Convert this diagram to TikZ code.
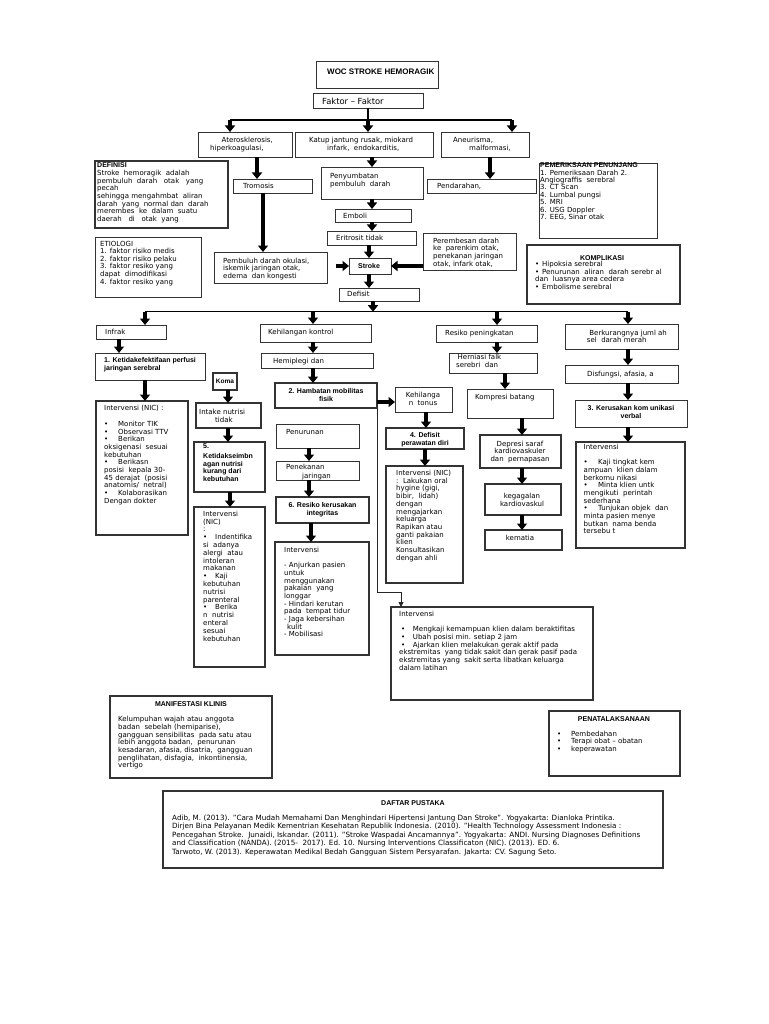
\documentclass[tikz,border=0pt]{standalone}
\usepackage{fontspec}
\setmainfont{DejaVu Sans}
\newfontfamily\arialf{Liberation Sans}
\usetikzlibrary{arrows.meta,calc}
\newcommand\ftN{\fontsize{7}{7.7}\selectfont}
\newcommand\ftB{\arialf\bfseries\fontsize{7}{8}\selectfont}
\newcommand\ftS{\fontsize{7.2}{8.5}\selectfont}
\newcommand\blt[1][14pt]{\makebox[#1][l]{•}}
\newcommand\mkbox[6][box]{\pgfmathsetmacro\bw{#5-#3}\pgfmathsetmacro\bh{#6-#4}\node[#1,minimum width=\bw pt,minimum height=\bh pt] (#2) at (#3,#4) {};}
\newcommand\tx[5][]{\node[txt,#1] (#2) at (#3,#4) {#5};}
\newcommand\va[3]{\draw[arr] (#1,0 |- #2) -- (#1,0 |- #3);}
\begin{document}
\begin{tikzpicture}[x=1pt,y=-1pt,
  box/.style={draw=black!80, line width=0.75pt, anchor=north west, inner sep=0pt, outer sep=0pt},
  tbox/.style={box, line width=1.2pt},
  txt/.style={inner sep=0pt, anchor=north west, align=left, font=\ftN, yshift=3.3pt, execute at begin node=\strut},
  ctr/.style={anchor=north, align=center},
  arr/.style={draw=black, line width=3.3pt, -{Triangle[width=10pt,length=6.5pt]}},
  distr/.style={draw=black, line width=1.3pt},
  thinarr/.style={draw=black!85, line width=0.8pt, -{Triangle[width=5pt,length=5pt]}}]
\fill[white] (0,0) rectangle (768,1024);
\useasboundingbox (0,0) rectangle (768,1024);

% ---------- boxes ----------
\mkbox{title}{316}{61}{438}{88}
\mkbox{faktor}{313}{93}{423}{108}
\mkbox{atero}{198}{132}{292}{157}
\mkbox{katup}{295}{132}{433}{157}
\mkbox{aneu}{441}{132}{529}{157}
\mkbox[tbox]{defin}{95}{161}{228}{228}
\mkbox{tromo}{233}{179}{312}{193}
\mkbox{penyum}{321}{167}{423}{199}
\mkbox{pendar}{427}{179}{536}{193}
\mkbox{pemer}{539}{163}{657}{238}
\mkbox{emboli}{335}{209}{411}{222}
\mkbox{eritro}{327}{231}{416}{245}
\mkbox{etio}{95}{237}{201}{297}
\mkbox{perem}{423}{233}{516}{270}
\mkbox{stroke}{349}{258}{391}{274}
\mkbox{pembul}{214}{252}{327}{283}
\mkbox[tbox]{kompl}{527}{245}{680}{304}
\mkbox{defisit}{339}{288}{419}{301}
\mkbox{infrak}{96}{325}{166}{339}
\mkbox{kehil}{260}{324}{371}{342}
\mkbox{resiko}{436}{325}{537}{342}
\mkbox{berkur}{565}{324}{678}{349}
\mkbox{dA}{95}{353}{205}{380}
\mkbox{hemi}{261}{353}{373}{368}
\mkbox{hern}{449}{353}{537}{373}
\mkbox{disf}{565}{365}{678}{383}
\mkbox[tbox]{koma}{213}{373}{237}{390}
\mkbox[tbox]{dB}{275}{383}{377}{408}
\mkbox{kton}{395}{387}{452}{412}
\mkbox{komp}{467}{389}{553}{418}
\mkbox{dC}{575}{400}{687}{427}
\mkbox[tbox]{intA}{96}{401}{188}{535}
\mkbox[tbox]{intake}{196}{403}{261}{428}
\mkbox{penA}{276}{424}{359}{448}
\mkbox[tbox]{dD}{386}{428}{464}{449}
\mkbox[tbox]{depr}{480}{435}{561}{468}
\mkbox[tbox]{dE}{194}{442}{265}{492}
\mkbox[tbox]{intC}{576}{442}{685}{548}
\mkbox{penB}{276}{461}{359}{480}
\mkbox[tbox]{intD}{386}{466}{463}{583}
\mkbox[tbox]{gagal}{485}{484}{561}{515}
\mkbox[tbox]{dF}{276}{497}{369}{523}
\mkbox[tbox]{intE}{194}{507}{265}{667}
\mkbox[tbox]{mati}{485}{530}{562}{550}
\mkbox[tbox]{intF}{275}{542}{369}{655}
\mkbox[tbox]{intB}{391}{607}{593}{700}
\mkbox[tbox]{manif}{110}{696}{272}{778}
\mkbox[tbox]{penat}{549}{711}{680}{776}
\mkbox[tbox]{pustaka}{163}{791}{663}{868}

% ---------- texts ----------
\tx[font={\arialf\bfseries\fontsize{8}{9}\selectfont}]{titleT}{327}{71}{WOC STROKE HEMORAGIK}
\tx[font={\fontsize{8.4}{9}\selectfont}]{faktorT}{322}{101}{Faktor – Faktor}
\tx[font={\fontsize{7}{7.2}\selectfont}]{ateroT}{210}{140.7}{\hspace*{11.5pt}Aterosklerosis,\\hiperkoagulasi,}
\tx[font={\fontsize{7}{7.2}\selectfont}]{katupT}{309}{140.7}{Katup jantung rusak, miokard\\\hspace*{18pt}infark,\ \ endokarditis,}
\tx[font={\fontsize{7}{7.2}\selectfont}]{aneuT}{453}{140.7}{Aneurisma,\\\hspace*{16pt}malformasi,}
\tx{definT}{97}{166}{{\ftB DEFINISI}\\Stroke\ \ hemoragik\ \ adalah\\pembuluh\ \ darah\ \ \ otak\ \ \ yang\\pecah\\sehingga mengahmbat\ \ aliran\\darah\ \ yang\ \ normal dan\ \ darah\\merembes\ \ ke\ \ dalam\ \ suatu\\daerah\ \ \ di\ \ \ otak\ \ yang}
\tx{tromoT}{243}{186}{Tromosis}
\tx{penyumT}{330}{176.7}{Penyumbatan\\pembuluh\ \ darah}
\tx{pendarT}{437}{186}{Pendarahan,}
\tx[font={\fontsize{7}{7.4}\selectfont}]{pemerT}{540}{166}{{\ftB PEMERIKSAAN PENUNJANG}\\1. Pemeriksaan Darah 2.\\Angiograffis\ \ serebral\\3. CT Scan\\4. Lumbal pungsi\\5. MRI\\6. USG Doppler\\7. EEG, Sinar otak}
\tx{emboliT}{343}{216}{Emboli}
\tx{eritroT}{336}{238}{Eritrosit tidak}
\tx[font={\fontsize{7}{7.6}\selectfont}]{etioT}{100}{244}{ETIOLOGI\\1. faktor risiko medis\\2. faktor risiko pelaku\\3. faktor resiko yang\\dapat\ \ dimodifikasi\\4. faktor resiko yang}
\tx{peremT}{433}{241}{Perembesan darah\\ke\ \ parenkim otak,\\penekanan jaringan\\otak, infark otak,}
\tx[font=\ftB]{strokeT}{358}{266}{Stroke}
\tx{pembulT}{223}{261}{Pembuluh darah okulasi,\\iskemik jaringan otak,\\edema\ \ dan kongesti}
\tx[ctr,font=\ftB]{komplT}{602}{257.7}{KOMPLIKASI}
\tx[font={\fontsize{7}{7.4}\selectfont}]{komplB}{535}{264.7}{\blt[7pt]Hipoksia serebral\\\blt[7pt]Penurunan\ \ aliran\ \ darah serebr al\\dan\ \ luasnya area cedera\\\blt[7pt]Embolisme serebral}
\tx{defisitT}{347}{294.5}{Defisit}
\tx{infrakT}{105}{332}{Infrak}
\tx{kehilT}{268}{332}{Kehilangan kontrol}
\tx{resikoT}{445}{333}{Resiko peningkatan}
\tx{berkurT}{586.7}{333}{\hspace*{2.5pt}Berkurangnya juml ah\\sel\ \ darah merah}
\tx[font=\ftB]{dAT}{104}{361}{1. Ketidakefektifaan perfusi\\jaringan serebral}
\tx{hemiT}{273}{361}{Hemiplegi dan}
\tx[font={\fontsize{7}{8}\selectfont}]{hernT}{456}{357}{\hspace*{1.5pt}Herniasi falk\\serebri\ \ dan}
\tx{disfT}{587}{374}{Disfungsi, afasia, a}
\tx[ctr,font={\arialf\bfseries\fontsize{6.5}{8}\selectfont}]{komaT}{225}{381}{Koma}
\tx[ctr,font={\arialf\bfseries\fontsize{7}{7.5}\selectfont}]{dBT}{326}{391.7}{2. Hambatan mobilitas\\fisik}
\tx[ctr,font={\fontsize{7}{7.5}\selectfont}]{ktonT}{423}{395.7}{Kehilanga\\n\ \ tonus}
\tx{kompT}{475}{397}{Kompresi batang}
\tx[ctr,font=\ftB]{dCT}{631}{409}{3. Kerusakan kom unikasi\\verbal}
\tx{intAT}{104}{408.7}{Intervensi (NIC) :\\~\\\blt Monitor TIK\\\blt Observasi TTV\\\blt Berikan\\oksigenasi\ \ sesuai\\kebutuhan\\\blt Berikasn\\posisi\ \ kepala 30-\\45 derajat\ \ (posisi\\anatomis/\ \ netral)\\\blt Kolaborasikan\\Dengan dokter}
\tx[font={\fontsize{7}{8}\selectfont}]{intakeT}{199}{412}{Intake nutrisi\\\hspace*{16pt}tidak}
\tx{penAT}{286}{432}{Penurunan}
\tx[ctr,font={\arialf\bfseries\fontsize{7}{8.3}\selectfont}]{dDT}{425}{435.7}{4. Defisit\\perawatan diri}
\tx[ctr,font={\fontsize{7}{7.5}\selectfont}]{deprT}{520}{444}{Depresi saraf\\kardiovaskuler\\dan\ \ pernapasan}
\tx[font={\arialf\bfseries\fontsize{7}{7.7}\selectfont}]{dET}{203}{446.7}{5.\\[2.3pt]Ketidakseimbn\\agan nutrisi\\kurang dari\\kebutuhan}
\tx{intCT}{583.5}{447}{Intervensi\\~\\\blt[14.5pt]Kaji tingkat kem\\ampuan\ \ klien dalam\\berkomu nikasi\\\blt[14.5pt]Minta klien untk\\mengikuti\ \ perintah\\sederhana\\\blt[14.5pt]Tunjukan objek\ \ dan\\minta pasien menye\\butkan\ \ nama benda\\tersebu t}
\tx[font={\fontsize{7}{8.7}\selectfont}]{penBT}{286}{467.7}{Penekanan\\\hspace*{16pt}jaringan}
\tx{intDT}{396}{473.3}{Intervensi (NIC)\\:\ \ Lakukan oral\\hygine (gigi,\\bibir,\ \ lidah)\\dengan\\mengajarkan\\keluarga\\Rapikan atau\\ganti pakaian\\klien\\Konsultasikan\\dengan ahli}
\tx[ctr,font={\fontsize{7}{8}\selectfont}]{gagalT}{522}{496}{kegagalan\\kardiovaskul}
\tx[ctr,font=\ftB]{dFT}{322.5}{506}{6. Resiko kerusakan\\integritas}
\tx[font={\fontsize{7}{7.8}\selectfont}]{intET}{203}{514}{Intervensi\\(NIC)\\:\\\blt[12pt]Indentifika\\si\ \ adanya\\alergi\ \ atau\\intoleran\\makanan\\\blt[12pt]Kaji\\kebutuhan\\nutrisi\\parenteral\\\blt[12pt]Berika\\n\ \ nutrisi\\enteral\\sesuai\\kebutuhan}
\tx[ctr]{matiT}{520}{538}{kematia}
\tx{intFT}{284}{550}{Intervensi\\~\\- Anjurkan pasien\\untuk\\menggunakan\\pakaian\ \ yang\\longgar\\- Hindari kerutan\\pada\ \ tempat tidur\\- Jaga kebersihan\\\hspace*{3pt}kulit\\- Mobilisasi}
\tx{intBT}{399}{614}{Intervensi\\~\\\hspace*{2pt}\blt[11.7pt]Mengkaji kemampuan klien dalam beraktifitas\\\hspace*{2pt}\blt[11.7pt]Ubah posisi min. setiap 2 jam\\\hspace*{2pt}\blt[11.7pt]Ajarkan klien melakukan gerak aktif pada\\ekstremitas\ \ yang tidak sakit dan gerak pasif pada\\ekstremitas yang\ \ sakit serta libatkan keluarga\\dalam latihan}
\tx[ctr,font=\ftB]{manifT}{191}{704}{MANIFESTASI KLINIS}
\tx{manifB}{118}{719.5}{Kelumpuhan wajah atau anggota\\badan\ \ sebelah (hemiparise),\\gangguan sensibilitas\ \ pada satu atau\\lebih anggota badan,\ \ penurunan\\kesadaran, afasia, disatria,\ \ gangguan\\penglihatan, disfagia,\ \ inkontinensia,\\vertigo}
\tx[ctr,font=\ftB]{penatT}{614}{719}{PENATALAKSANAAN}
\tx{penatB}{557}{734}{\blt Pembedahan\\\blt Terapi obat – obatan\\\blt keperawatan}
\tx[ctr,font=\ftB]{pustT}{413}{803}{DAFTAR PUSTAKA}
\tx[font=\ftS]{pustB}{172}{818}{Adib, M. (2013). "Cara Mudah Memahami Dan Menghindari Hipertensi Jantung Dan Stroke". Yogyakarta: Dianloka Printika.\\Dirjen Bina Pelayanan Medik Kementrian Kesehatan Republik Indonesia. (2010). "Health Technology Assessment Indonesia :\\Pencegahan Stroke.\ \ Junaidi, Iskandar. (2011). "Stroke Waspadai Ancamannya". Yogyakarta: ANDI. Nursing Diagnoses Definitions\\and Classification (NANDA). (2015-\ \ 2017). Ed. 10. Nursing Interventions Classificaton (NIC). (2013). ED. 6.\\Tarwoto, W. (2013). Keperawatan Medikal Bedah Gangguan Sistem Persyarafan. Jakarta: CV. Sagung Seto.}

% ---------- connectors ----------
\coordinate (jA) at (368,120);
\coordinate (La) at (230,120);
\coordinate (Lb) at (512,120);
\draw[distr] (faktor.south) -- (jA);
\draw[distr] (La) -- (Lb);
\draw[arr] (La) -- (La |- atero.north);
\draw[arr] (jA) -- (jA |- katup.north);
\draw[arr] (Lb) -- (Lb |- aneu.north);
\va{257}{atero.south}{tromo.north}
\va{263}{tromo.south}{pembul.north}
\va{372}{katup.south}{penyum.north}
\va{490}{aneu.south}{pendar.north}
\va{372}{penyum.south}{emboli.north}
\va{372}{emboli.south}{eritro.north}
\va{369}{eritro.south}{stroke.north}
\va{369}{stroke.south}{defisit.north}
\coordinate (sL) at (336,266);
\draw[arr] (sL) -- (stroke.west);
\draw[arr] (perem.west |- stroke.east) -- (stroke.east);
\coordinate (M) at (373,311.7);
\coordinate (Ma) at (145,311.7);
\coordinate (Mb) at (628,311.7);
\draw[arr] (M |- defisit.south) -- (M);
\draw[distr] (Ma) -- (Mb);
\draw[arr] (Ma) -- (Ma |- infrak.north);
\va{313}{M}{kehil.north}
\va{497}{M}{resiko.north}
\draw[arr] (Mb) -- (Mb |- berkur.north);
\va{119}{infrak.south}{dA.north}
\va{145}{dA.south}{intA.north}
\va{313}{kehil.south}{hemi.north}
\va{313}{hemi.south}{dB.north}
\va{497}{resiko.south}{hern.north}
\va{505}{hern.south}{komp.north}
\va{522}{komp.south}{depr.north}
\va{522}{depr.south}{gagal.north}
\va{522}{gagal.south}{mati.north}
\va{628}{berkur.south}{disf.north}
\va{628}{disf.south}{dC.north}
\va{628}{dC.south}{intC.north}
\va{228}{koma.south}{intake.north}
\va{228}{intake.south}{dE.north}
\va{230}{dE.south}{intE.north}
\draw[arr] (dB.east |- 0,402) -- (kton.west |- 0,402);
\va{426}{kton.south}{dD.north}
\va{425}{dD.south}{intD.north}
\va{309}{penA.south}{penB.north}
\va{309}{penB.south}{dF.north}
\va{311}{dF.south}{intF.north}
\draw[thinarr] (dB.south east) |- (401,592) -- (401,0 |- intB.north);
\end{tikzpicture}
\end{document}
